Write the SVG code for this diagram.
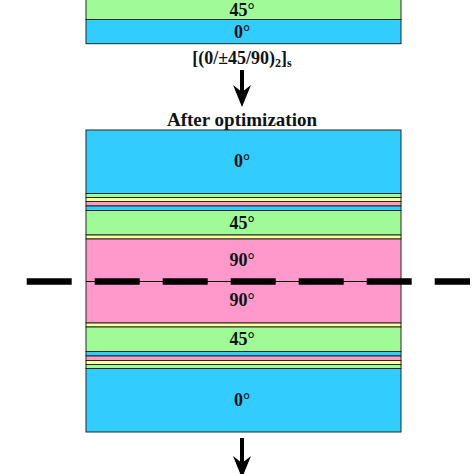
<svg xmlns="http://www.w3.org/2000/svg" width="474" height="474" viewBox="0 0 474 474">
<style>
rect.ly{stroke:#1e2a22;stroke-width:1}
.b{fill:#33CCFF}.g{fill:#A0FA98}.p{fill:#FF99CC}.y{fill:#FFFF9C}
text{font-family:"Liberation Serif","Times New Roman",serif;font-weight:bold;fill:#0d1418;text-anchor:middle}
.lab{font-size:18px}
</style>
<rect width="474" height="474" fill="#fff"/>
<g id="top-laminate">
<rect class="ly g" x="86" y="-2" width="315" height="21.5"/>
<rect class="ly b" x="86" y="19.5" width="315" height="24.2"/>
<text class="lab" x="242" y="15.5">45°</text>
<text class="lab" x="242" y="38">0°</text>
</g>
<g id="stacking-label">
<text class="lab" x="242" y="64">[(0/±45/90)<tspan font-size="12" dy="3">2</tspan><tspan dy="-3">]</tspan><tspan font-size="12" dy="3">s</tspan></text>
</g>
<g id="after-label">
<text x="242" y="126" font-size="19">After optimization</text>
</g>
<g id="optimized-laminate">
<rect class="ly b" x="86" y="130" width="315" height="63.5"/>
<rect class="ly g" x="86" y="193.5" width="315" height="4"/>
<rect class="ly y" x="86" y="197.5" width="315" height="4"/>
<rect class="ly p" x="86" y="201.5" width="315" height="4.5"/>
<rect class="ly b" x="86" y="206" width="315" height="4.5"/>
<rect class="ly g" x="86" y="210.5" width="315" height="24.5"/>
<rect class="ly y" x="86" y="235" width="315" height="4"/>
<rect class="ly p" x="86" y="239" width="315" height="84"/>
<rect class="ly y" x="86" y="323" width="315" height="4"/>
<rect class="ly g" x="86" y="327" width="315" height="24.5"/>
<rect class="ly b" x="86" y="351.5" width="315" height="4.5"/>
<rect class="ly p" x="86" y="356" width="315" height="4.5"/>
<rect class="ly y" x="86" y="360.5" width="315" height="4"/>
<rect class="ly g" x="86" y="364.5" width="315" height="4"/>
<rect class="ly b" x="86" y="368.5" width="315" height="63.5"/>
<text class="lab" x="242" y="167">0°</text>
<text class="lab" x="242" y="229">45°</text>
<text class="lab" x="242" y="266">90°</text>
<text class="lab" x="242" y="306">90°</text>
<text class="lab" x="242" y="345">45°</text>
<text class="lab" x="242" y="406">0°</text>
</g>
<g id="connectors">
<line x1="86" y1="281.5" x2="401" y2="281.5" stroke="#000" stroke-width="1"/>
<line x1="26.7" y1="281.5" x2="470" y2="281.5" stroke="#000" stroke-width="6.5" stroke-dasharray="45 23"/>
<line x1="242" y1="70" x2="242" y2="96" stroke="#000" stroke-width="4"/>
<path d="M242,107 L233,85 L242,92 L251,85 Z" fill="#000"/>
<line x1="242" y1="438" x2="242" y2="465" stroke="#000" stroke-width="4"/>
<path d="M242,478 L233,456 L242,463 L251,456 Z" fill="#000"/>
</g>
</svg>
